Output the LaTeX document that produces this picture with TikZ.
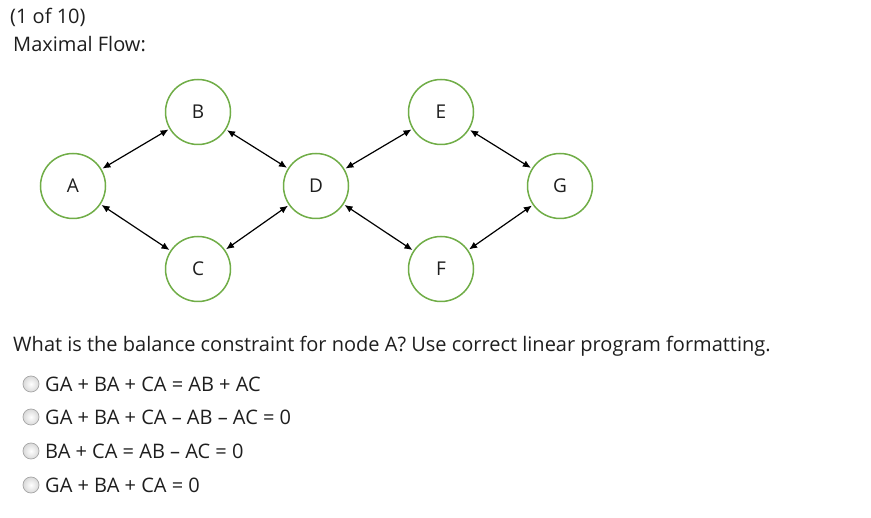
\documentclass[tikz,border=0pt]{standalone}
\usepackage{fontspec}
\setmainfont{Open Sans}
\usetikzlibrary{arrows.meta}
\definecolor{ng}{RGB}{112,173,71}
\definecolor{tx}{RGB}{30,30,30}
\begin{document}
\begin{tikzpicture}[x=1pt,y=-1pt,
  vtx/.style={circle,draw=ng,line width=1.5pt,minimum size=65pt,inner sep=0pt,font=\fontsize{19}{22}\selectfont,text=tx,fill=white},
  edge/.style={{Latex[length=8pt,width=7pt]}-{Latex[length=8pt,width=7pt]},line width=1.2pt,shorten <=1pt,shorten >=1pt},
  txt/.style={anchor=west,inner sep=0pt,text=tx,font=\fontsize{20}{24}\selectfont},
  radio/.style={circle,draw=gray!70,line width=0.7pt,inner color=white,outer color=gray!30,minimum size=16pt,inner sep=0pt}]
\useasboundingbox (0,0) rectangle (871,518);
\node[vtx] (A) at (73,186) {A};
\node[vtx] (B) at (198,112) {B};
\node[vtx] (C) at (198,269) {C};
\node[vtx] (D) at (316,186) {D};
\node[vtx] (E) at (441,112) {E};
\node[vtx] (F) at (441,269) {F};
\node[vtx] (G) at (560,186) {G};
\foreach \a/\b in {A/B,B/D,A/C,C/D,D/E,E/G,D/F,F/G} \draw[edge] (\a) -- (\b);
\node[txt] (t1) at (10,17) {(1 of 10)};
\node[txt] (t2) at (13,44) {Maximal Flow:};
\node[txt] (q) at (13,346) {What is the balance constraint for node A? Use correct linear program formatting.};
\node[radio] (r1) at (31,384) {};
\node[radio] (r2) at (31,417) {};
\node[radio] (r3) at (31,451) {};
\node[radio] (r4) at (31,485) {};
\node[txt] (o1) at (45,384) {GA + BA + CA = AB + AC};
\node[txt] (o2) at (45,417) {GA + BA + CA – AB – AC = 0};
\node[txt] (o3) at (45,451) {BA + CA = AB – AC = 0};
\node[txt] (o4) at (45,485) {GA + BA + CA = 0};
\end{tikzpicture}
\end{document}
